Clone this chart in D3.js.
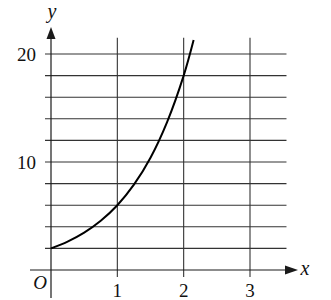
<!DOCTYPE html>
<html>
<head>
<meta charset="utf-8">
<script src="https://cdn.jsdelivr.net/npm/d3@7"></script>
<style>
  html, body { margin: 0; padding: 0; background: #fff; }
  svg { display: block; }
</style>
</head>
<body>
<svg id="chart" width="331" height="300"></svg>
<script>
// Data
const curveX = [0, 0.25, 0.5, 0.75, 1, 1.25, 1.5, 1.75, 2, 2.15];
const curveY = [2, 2.63, 3.46, 4.56, 6, 7.9, 10.4, 13.7, 18, 21.3];
const gridY = [2, 4, 6, 8, 10, 12, 14, 16, 18, 20];
const gridX = [1, 2, 3];
const yTickLabels = [10, 20];
const xTickLabels = [1, 2, 3];

const FONT = "'Liberation Serif', 'Times New Roman', Times, 'DejaVu Serif', serif";
const svg = d3.select("#chart");
const x = d3.scaleLinear().domain([0, 3]).range([51, 250]);
const y = d3.scaleLinear().domain([0, 20]).range([270, 54]);
const ink = "#1a1a1a";

// horizontal grid lines
svg.append("g").selectAll("line").data(gridY).join("line")
  .attr("x1", x(0) - 6).attr("x2", x(3.55))
  .attr("y1", d => y(d)).attr("y2", d => y(d))
  .attr("stroke", "#333").attr("stroke-width", 1.1);

// vertical grid lines
svg.append("g").selectAll("line").data(gridX).join("line")
  .attr("x1", d => x(d)).attr("x2", d => x(d))
  .attr("y1", y(21.5)).attr("y2", y(0) + 7)
  .attr("stroke", "#333").attr("stroke-width", 1.1);

// x axis
svg.append("line")
  .attr("x1", 30).attr("x2", 290)
  .attr("y1", y(0)).attr("y2", y(0))
  .attr("stroke", ink).attr("stroke-width", 1.2);
svg.append("path")
  .attr("d", `M${x(0) + 247},${y(0)} l-13,-4.5 l0,9 Z`)
  .attr("fill", ink);

// y axis
svg.append("line")
  .attr("x1", x(0)).attr("x2", x(0))
  .attr("y1", 298).attr("y2", 34)
  .attr("stroke", ink).attr("stroke-width", 1.2);
svg.append("path")
  .attr("d", `M${x(0)},27 l-4.5,12 l9,0 Z`)
  .attr("fill", ink);

// curve
const line = d3.line().x(d => x(d[0])).y(d => y(d[1])).curve(d3.curveCatmullRom);
svg.append("path")
  .datum(curveX.map((v, i) => [v, curveY[i]]))
  .attr("d", line)
  .attr("fill", "none").attr("stroke", "#000").attr("stroke-width", 2);

const txt = svg.append("g").attr("font-family", FONT).attr("fill", "#111");

// y tick labels
txt.append("g").selectAll("text").data(yTickLabels).join("text")
  .attr("x", 36).attr("y", d => y(d) + 6.5)
  .attr("text-anchor", "end").attr("font-size", 19)
  .text(d => d);

// x tick labels
txt.append("g").selectAll("text").data(xTickLabels).join("text")
  .attr("x", d => x(d)).attr("y", 297)
  .attr("text-anchor", "middle").attr("font-size", 19)
  .text(d => d);

// origin + axis names
txt.append("text").attr("x", 40).attr("y", 289)
  .attr("text-anchor", "middle").attr("font-size", 19).attr("font-style", "italic").text("O");
txt.append("text").attr("x", 305).attr("y", 275)
  .attr("text-anchor", "middle").attr("font-size", 20).attr("font-style", "italic").text("x");
txt.append("text").attr("x", 52).attr("y", 18)
  .attr("text-anchor", "middle").attr("font-size", 20).attr("font-style", "italic").text("y");
</script>
</body>
</html>
